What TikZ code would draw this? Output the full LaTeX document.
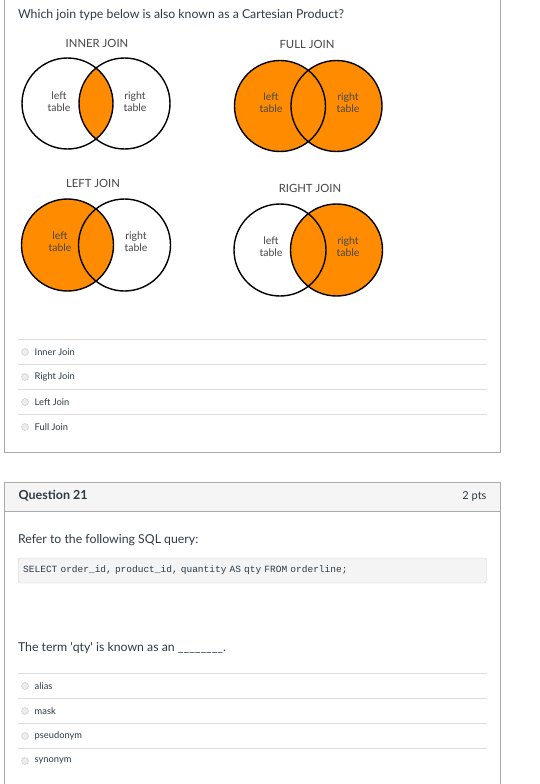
\documentclass[tikz,border=0pt]{standalone}
\usepackage{fontspec}
\setmainfont{Lato}
\setmonofont{Liberation Mono}
\usetikzlibrary{positioning}
\definecolor{joinorange}{RGB}{255,140,0}
\definecolor{boxgray}{RGB}{170,170,170}
\definecolor{rulegray}{RGB}{221,221,221}
\definecolor{headgray}{RGB}{245,245,245}
\definecolor{codegray}{RGB}{244,244,244}
\definecolor{codeedge}{RGB}{199,205,209}
\definecolor{txtdark}{RGB}{45,59,69}
\definecolor{venntxt}{RGB}{70,70,70}
\tikzset{
	venn/.style={draw=black,line width=1.4pt},
	venntitle/.style={font=\fontsize{11.3}{13}\selectfont,text=venntxt},
	tablelbl/.style={font=\fontsize{10.5}{12}\selectfont,text=venntxt,align=center},
	optlbl/.style={font=\fontsize{9.3}{11}\selectfont,text=txtdark,anchor=west},
	radio/.style={circle,draw=gray!45,fill=gray!15,minimum size=7pt,inner sep=0pt},
	qtext/.style={font=\fontsize{12.3}{15}\selectfont,text=txtdark,anchor=west},
	sepline/.style={draw=rulegray,line width=0.8pt},
	codebox/.style={draw=codeedge,fill=codegray,rounded corners=2pt,anchor=west,
		text width=458pt,inner sep=5pt,minimum height=25pt,align=left,
		font=\fontsize{9.5}{11}\selectfont\ttfamily,text=txtdark}
}
\begin{document}
\begin{tikzpicture}[x=1pt,y=-1pt]
\useasboundingbox (0,0) rectangle (539,784);
\fill[white] (0,0) rectangle (539,784);
\draw[boxgray] (4,-5) -- (4,452) -- (500,452) -- (500,-5);
\node[qtext] (q1) at (14.5,15) {Which join type below is also known as a Cartesian Product?};

\coordinate (ij-l) at (67.5,103.5);
\coordinate (ij-r) at (124.5,103.5);
\coordinate (fj-l) at (280,106);
\coordinate (fj-r) at (336.5,106);
\coordinate (lj-l) at (67.5,245);
\coordinate (lj-r) at (124.5,245);
\coordinate (rj-l) at (280,250);
\coordinate (rj-r) at (336.5,250);

\begin{scope}
	\clip (ij-l) circle[radius=45.5pt];
	\fill[joinorange] (ij-r) circle[radius=45.5pt];
\end{scope}
\fill[joinorange] (fj-l) circle[radius=45.5pt] (fj-r) circle[radius=45.5pt];
\fill[joinorange] (lj-l) circle[radius=46pt];
\fill[joinorange] (rj-r) circle[radius=46pt];
\foreach \c in {ij-l,ij-r,fj-l,fj-r}{
	\draw[venn] (\c) circle[radius=45.5pt];}
\foreach \c in {lj-l,lj-r,rj-l,rj-r}{
	\draw[venn] (\c) circle[radius=46pt];}

\node[venntitle] (ij) at (97,43) {INNER JOIN};
\node[venntitle] (fj) at (307,44) {FULL JOIN};
\node[venntitle] (lj) at (93,183) {LEFT JOIN};
\node[venntitle] (rj) at (310,188) {RIGHT JOIN};
\node[tablelbl] (ij-lt) at (59,102) {left\\table};
\node[tablelbl] (ij-rt) at (135,102) {right\\table};
\node[tablelbl] (fj-lt) at (271,103) {left\\table};
\node[tablelbl] (fj-rt) at (348,103) {right\\table};
\node[tablelbl] (lj-lt) at (60,242) {left\\table};
\node[tablelbl] (lj-rt) at (136,242) {right\\table};
\node[tablelbl] (rj-lt) at (271,247) {left\\table};
\node[tablelbl] (rj-rt) at (348,247) {right\\table};

\foreach \txt [count=\i] in {Inner Join,Right Join,Left Join,Full Join}{
	\draw[sepline] (18,314+25*\i) -- (487,314+25*\i);
	\node[radio] (qa\i) at (25,327+25*\i) {};
	\node[optlbl,right=2.5pt of qa\i] (qa\i-txt) {\txt};
}

\fill[headgray] (4,482) rectangle (500,511);
\draw[boxgray] (4,790) -- (4,482) -- (500,482) -- (500,790);
\draw[boxgray] (4,511) -- (500,511);
\node[font=\fontsize{12.5}{15}\selectfont\bfseries,text=txtdark,anchor=west] (qh) at (15,496) {Question 21};
\node[font=\fontsize{11}{13}\selectfont,text=txtdark,anchor=east] (pts) at (490,496) {2 pts};
\node[qtext] (q2) at (14.5,540) {Refer to the following SQL query:};
\node[codebox] (code) at (18,570.5) {SELECT order\_id, product\_id, quantity AS qty FROM orderline;};
\node[qtext] (q3) at (14.5,648) {The term \textquotesingle qty\textquotesingle\ is known as an \_\_\_\_\_\_\_\_.};

\foreach \txt [count=\i] in {alias,mask,pseudonym,synonym}{
	\draw[sepline] (18,648+25*\i) -- (487,648+25*\i);
	\node[radio] (qb\i) at (25,661+25*\i) {};
	\node[optlbl,right=2.5pt of qb\i] (qb\i-txt) {\txt};
}
\end{tikzpicture}
\end{document}
